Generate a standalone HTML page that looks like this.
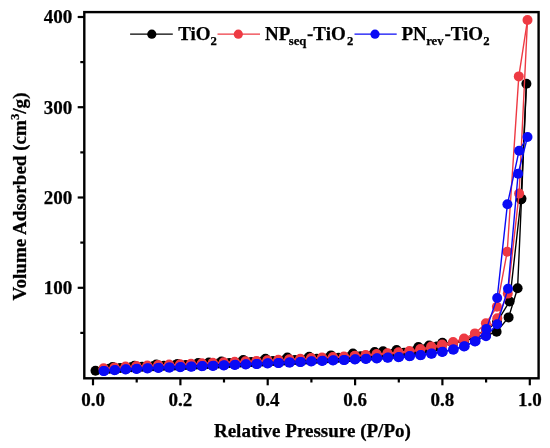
<!DOCTYPE html>
<html><head><meta charset="utf-8"><title>N2 adsorption isotherms</title>
<style>
html,body{margin:0;padding:0;background:#fff;}
svg{display:block;filter:blur(0.35px)}
text{font-family:"Liberation Serif",serif;font-weight:bold;font-size:19px;fill:#000;stroke:#000;stroke-width:0.25px}
.sub{font-size:12.7px}
</style></head><body>
<svg width="550" height="448" viewBox="0 0 550 448">
<rect width="550" height="448" fill="#fff"/>
<g stroke="#000" stroke-width="2.2" fill="none">
<line x1="93.0" y1="378.3" x2="93.0" y2="385.3"/>
<line x1="180.4" y1="378.3" x2="180.4" y2="385.3"/>
<line x1="267.7" y1="378.3" x2="267.7" y2="385.3"/>
<line x1="355.1" y1="378.3" x2="355.1" y2="385.3"/>
<line x1="442.4" y1="378.3" x2="442.4" y2="385.3"/>
<line x1="529.8" y1="378.3" x2="529.8" y2="385.3"/>
<line x1="136.7" y1="378.3" x2="136.7" y2="382.5"/>
<line x1="224.0" y1="378.3" x2="224.0" y2="382.5"/>
<line x1="311.4" y1="378.3" x2="311.4" y2="382.5"/>
<line x1="398.8" y1="378.3" x2="398.8" y2="382.5"/>
<line x1="486.1" y1="378.3" x2="486.1" y2="382.5"/>
<line x1="84.3" y1="287.8" x2="77.7" y2="287.8"/>
<line x1="84.3" y1="197.5" x2="77.7" y2="197.5"/>
<line x1="84.3" y1="107.2" x2="77.7" y2="107.2"/>
<line x1="84.3" y1="17.0" x2="77.7" y2="17.0"/>
<line x1="84.3" y1="332.9" x2="80.3" y2="332.9"/>
<line x1="84.3" y1="242.6" x2="80.3" y2="242.6"/>
<line x1="84.3" y1="152.4" x2="80.3" y2="152.4"/>
<line x1="84.3" y1="62.1" x2="80.3" y2="62.1"/>
</g>
<g stroke="#000000" fill="#000000">
<polyline fill="none" stroke-width="1.4" stroke-linejoin="round" points="95.5,370.8 109.3,368.8 120.2,368.0 131.2,367.3 142.1,366.7 153.0,366.2 163.9,365.8 174.8,365.4 185.8,365.0 196.7,364.5 207.6,364.0 218.5,363.5 229.4,363.0 240.4,362.5 251.3,362.1 262.2,361.5 273.1,361.0 284.0,360.5 295.0,360.0 305.9,359.4 316.8,358.8 327.7,358.3 338.6,357.8 349.6,357.1 360.5,356.3 371.4,355.5 382.3,354.6 393.2,353.7 404.2,352.7 415.1,351.1 426.0,348.8 436.9,346.5 453.0,343.5 464.0,341.0 475.0,338.0 486.0,335.5 496.6,331.8 508.6,317.4 517.6,288.3 521.5,198.8 526.4,83.8"/>
<polyline fill="none" stroke-width="1.4" stroke-linejoin="round" points="526.4,83.8 521.0,199.5 509.6,301.4 497.0,322.0 486.0,330.5 475.0,335.0 464.0,340.5 453.0,343.0 442.4,342.7 429.1,345.5 418.4,347.1 396.6,350.0 383.1,351.2 374.7,352.0 352.9,353.6 331.0,355.4 309.2,356.7 287.4,357.6 265.5,358.7 243.3,360.0 221.5,361.6 208.9,362.6 198.2,363.0 177.5,363.9 156.3,364.6 134.5,365.7 112.7,367.1"/>
<circle stroke="none" cx="95.5" cy="370.8" r="5.0"/>
<circle stroke="none" cx="109.3" cy="368.8" r="5.0"/>
<circle stroke="none" cx="120.2" cy="368.0" r="5.0"/>
<circle stroke="none" cx="131.2" cy="367.3" r="5.0"/>
<circle stroke="none" cx="142.1" cy="366.7" r="5.0"/>
<circle stroke="none" cx="153.0" cy="366.2" r="5.0"/>
<circle stroke="none" cx="163.9" cy="365.8" r="5.0"/>
<circle stroke="none" cx="174.8" cy="365.4" r="5.0"/>
<circle stroke="none" cx="185.8" cy="365.0" r="5.0"/>
<circle stroke="none" cx="196.7" cy="364.5" r="5.0"/>
<circle stroke="none" cx="207.6" cy="364.0" r="5.0"/>
<circle stroke="none" cx="218.5" cy="363.5" r="5.0"/>
<circle stroke="none" cx="229.4" cy="363.0" r="5.0"/>
<circle stroke="none" cx="240.4" cy="362.5" r="5.0"/>
<circle stroke="none" cx="251.3" cy="362.1" r="5.0"/>
<circle stroke="none" cx="262.2" cy="361.5" r="5.0"/>
<circle stroke="none" cx="273.1" cy="361.0" r="5.0"/>
<circle stroke="none" cx="284.0" cy="360.5" r="5.0"/>
<circle stroke="none" cx="295.0" cy="360.0" r="5.0"/>
<circle stroke="none" cx="305.9" cy="359.4" r="5.0"/>
<circle stroke="none" cx="316.8" cy="358.8" r="5.0"/>
<circle stroke="none" cx="327.7" cy="358.3" r="5.0"/>
<circle stroke="none" cx="338.6" cy="357.8" r="5.0"/>
<circle stroke="none" cx="349.6" cy="357.1" r="5.0"/>
<circle stroke="none" cx="360.5" cy="356.3" r="5.0"/>
<circle stroke="none" cx="371.4" cy="355.5" r="5.0"/>
<circle stroke="none" cx="382.3" cy="354.6" r="5.0"/>
<circle stroke="none" cx="393.2" cy="353.7" r="5.0"/>
<circle stroke="none" cx="404.2" cy="352.7" r="5.0"/>
<circle stroke="none" cx="415.1" cy="351.1" r="5.0"/>
<circle stroke="none" cx="426.0" cy="348.8" r="5.0"/>
<circle stroke="none" cx="436.9" cy="346.5" r="5.0"/>
<circle stroke="none" cx="453.0" cy="343.5" r="5.0"/>
<circle stroke="none" cx="464.0" cy="341.0" r="5.0"/>
<circle stroke="none" cx="475.0" cy="338.0" r="5.0"/>
<circle stroke="none" cx="486.0" cy="335.5" r="5.0"/>
<circle stroke="none" cx="496.6" cy="331.8" r="5.0"/>
<circle stroke="none" cx="508.6" cy="317.4" r="5.0"/>
<circle stroke="none" cx="517.6" cy="288.3" r="5.0"/>
<circle stroke="none" cx="521.5" cy="198.8" r="5.0"/>
<circle stroke="none" cx="526.4" cy="83.8" r="5.0"/>
<circle stroke="none" cx="521.0" cy="199.5" r="5.0"/>
<circle stroke="none" cx="509.6" cy="301.4" r="5.0"/>
<circle stroke="none" cx="497.0" cy="322.0" r="5.0"/>
<circle stroke="none" cx="486.0" cy="330.5" r="5.0"/>
<circle stroke="none" cx="475.0" cy="335.0" r="5.0"/>
<circle stroke="none" cx="464.0" cy="340.5" r="5.0"/>
<circle stroke="none" cx="453.0" cy="343.0" r="5.0"/>
<circle stroke="none" cx="442.4" cy="342.7" r="5.0"/>
<circle stroke="none" cx="429.1" cy="345.5" r="5.0"/>
<circle stroke="none" cx="418.4" cy="347.1" r="5.0"/>
<circle stroke="none" cx="396.6" cy="350.0" r="5.0"/>
<circle stroke="none" cx="383.1" cy="351.2" r="5.0"/>
<circle stroke="none" cx="374.7" cy="352.0" r="5.0"/>
<circle stroke="none" cx="352.9" cy="353.6" r="5.0"/>
<circle stroke="none" cx="331.0" cy="355.4" r="5.0"/>
<circle stroke="none" cx="309.2" cy="356.7" r="5.0"/>
<circle stroke="none" cx="287.4" cy="357.6" r="5.0"/>
<circle stroke="none" cx="265.5" cy="358.7" r="5.0"/>
<circle stroke="none" cx="243.3" cy="360.0" r="5.0"/>
<circle stroke="none" cx="221.5" cy="361.6" r="5.0"/>
<circle stroke="none" cx="208.9" cy="362.6" r="5.0"/>
<circle stroke="none" cx="198.2" cy="363.0" r="5.0"/>
<circle stroke="none" cx="177.5" cy="363.9" r="5.0"/>
<circle stroke="none" cx="156.3" cy="364.6" r="5.0"/>
<circle stroke="none" cx="134.5" cy="365.7" r="5.0"/>
<circle stroke="none" cx="112.7" cy="367.1" r="5.0"/>
</g>
<g stroke="#ee3a43" fill="#ee3a43">
<polyline fill="none" stroke-width="1.4" stroke-linejoin="round" points="103.6,369.3 114.5,368.3 125.5,367.6 136.4,366.9 147.3,366.4 158.2,365.8 169.1,365.5 180.1,365.0 191.0,364.6 201.9,364.0 212.8,363.6 223.7,363.0 234.7,362.5 245.6,362.0 256.5,361.5 267.4,360.9 278.3,360.4 289.3,359.9 300.2,359.3 311.1,358.6 322.0,358.1 332.9,357.5 343.9,357.1 354.8,356.2 365.7,355.5 376.6,354.7 387.5,353.8 398.5,352.9 409.4,351.8 420.3,350.0 431.2,347.8 442.1,345.9 453.1,343.6 464.0,340.4 474.9,335.4 486.0,331.0 497.3,318.2 507.8,293.6 519.1,193.6 527.5,20.0"/>
<polyline fill="none" stroke-width="1.4" stroke-linejoin="round" points="527.5,20.0 518.8,76.4 507.2,251.7 496.9,306.8 485.9,323.3 474.9,333.4 464.0,338.6 453.1,342.0 442.1,344.5 431.2,346.6 420.3,349.1 409.4,351.1 398.5,352.3 387.5,353.2 376.6,354.1 365.7,354.9 354.8,355.7 343.9,356.6 332.9,357.0 322.0,357.5 311.1,358.1 300.2,358.7 289.3,359.2 278.3,359.8 267.4,360.2 256.5,360.9 245.6,361.3 234.7,361.8 223.7,362.2 212.8,362.8 201.9,363.2 191.0,363.8 180.1,364.2 169.1,364.6 158.2,365.0 147.3,365.5 136.4,366.0 125.5,366.6 114.5,367.4 103.6,368.3"/>
<circle stroke="none" cx="103.6" cy="369.3" r="5.0"/>
<circle stroke="none" cx="114.5" cy="368.3" r="5.0"/>
<circle stroke="none" cx="125.5" cy="367.6" r="5.0"/>
<circle stroke="none" cx="136.4" cy="366.9" r="5.0"/>
<circle stroke="none" cx="147.3" cy="366.4" r="5.0"/>
<circle stroke="none" cx="158.2" cy="365.8" r="5.0"/>
<circle stroke="none" cx="169.1" cy="365.5" r="5.0"/>
<circle stroke="none" cx="180.1" cy="365.0" r="5.0"/>
<circle stroke="none" cx="191.0" cy="364.6" r="5.0"/>
<circle stroke="none" cx="201.9" cy="364.0" r="5.0"/>
<circle stroke="none" cx="212.8" cy="363.6" r="5.0"/>
<circle stroke="none" cx="223.7" cy="363.0" r="5.0"/>
<circle stroke="none" cx="234.7" cy="362.5" r="5.0"/>
<circle stroke="none" cx="245.6" cy="362.0" r="5.0"/>
<circle stroke="none" cx="256.5" cy="361.5" r="5.0"/>
<circle stroke="none" cx="267.4" cy="360.9" r="5.0"/>
<circle stroke="none" cx="278.3" cy="360.4" r="5.0"/>
<circle stroke="none" cx="289.3" cy="359.9" r="5.0"/>
<circle stroke="none" cx="300.2" cy="359.3" r="5.0"/>
<circle stroke="none" cx="311.1" cy="358.6" r="5.0"/>
<circle stroke="none" cx="322.0" cy="358.1" r="5.0"/>
<circle stroke="none" cx="332.9" cy="357.5" r="5.0"/>
<circle stroke="none" cx="343.9" cy="357.1" r="5.0"/>
<circle stroke="none" cx="354.8" cy="356.2" r="5.0"/>
<circle stroke="none" cx="365.7" cy="355.5" r="5.0"/>
<circle stroke="none" cx="376.6" cy="354.7" r="5.0"/>
<circle stroke="none" cx="387.5" cy="353.8" r="5.0"/>
<circle stroke="none" cx="398.5" cy="352.9" r="5.0"/>
<circle stroke="none" cx="409.4" cy="351.8" r="5.0"/>
<circle stroke="none" cx="420.3" cy="350.0" r="5.0"/>
<circle stroke="none" cx="431.2" cy="347.8" r="5.0"/>
<circle stroke="none" cx="442.1" cy="345.9" r="5.0"/>
<circle stroke="none" cx="453.1" cy="343.6" r="5.0"/>
<circle stroke="none" cx="464.0" cy="340.4" r="5.0"/>
<circle stroke="none" cx="474.9" cy="335.4" r="5.0"/>
<circle stroke="none" cx="486.0" cy="331.0" r="5.0"/>
<circle stroke="none" cx="497.3" cy="318.2" r="5.0"/>
<circle stroke="none" cx="507.8" cy="293.6" r="5.0"/>
<circle stroke="none" cx="519.1" cy="193.6" r="5.0"/>
<circle stroke="none" cx="527.5" cy="20.0" r="5.0"/>
<circle stroke="none" cx="518.8" cy="76.4" r="5.0"/>
<circle stroke="none" cx="507.2" cy="251.7" r="5.0"/>
<circle stroke="none" cx="496.9" cy="306.8" r="5.0"/>
<circle stroke="none" cx="485.9" cy="323.3" r="5.0"/>
<circle stroke="none" cx="474.9" cy="333.4" r="5.0"/>
<circle stroke="none" cx="464.0" cy="338.6" r="5.0"/>
<circle stroke="none" cx="453.1" cy="342.0" r="5.0"/>
<circle stroke="none" cx="442.1" cy="344.5" r="5.0"/>
<circle stroke="none" cx="431.2" cy="346.6" r="5.0"/>
<circle stroke="none" cx="420.3" cy="349.1" r="5.0"/>
<circle stroke="none" cx="409.4" cy="351.1" r="5.0"/>
<circle stroke="none" cx="398.5" cy="352.3" r="5.0"/>
<circle stroke="none" cx="387.5" cy="353.2" r="5.0"/>
<circle stroke="none" cx="376.6" cy="354.1" r="5.0"/>
<circle stroke="none" cx="365.7" cy="354.9" r="5.0"/>
<circle stroke="none" cx="354.8" cy="355.7" r="5.0"/>
<circle stroke="none" cx="343.9" cy="356.6" r="5.0"/>
<circle stroke="none" cx="332.9" cy="357.0" r="5.0"/>
<circle stroke="none" cx="322.0" cy="357.5" r="5.0"/>
<circle stroke="none" cx="311.1" cy="358.1" r="5.0"/>
<circle stroke="none" cx="300.2" cy="358.7" r="5.0"/>
<circle stroke="none" cx="289.3" cy="359.2" r="5.0"/>
<circle stroke="none" cx="278.3" cy="359.8" r="5.0"/>
<circle stroke="none" cx="267.4" cy="360.2" r="5.0"/>
<circle stroke="none" cx="256.5" cy="360.9" r="5.0"/>
<circle stroke="none" cx="245.6" cy="361.3" r="5.0"/>
<circle stroke="none" cx="234.7" cy="361.8" r="5.0"/>
<circle stroke="none" cx="223.7" cy="362.2" r="5.0"/>
<circle stroke="none" cx="212.8" cy="362.8" r="5.0"/>
<circle stroke="none" cx="201.9" cy="363.2" r="5.0"/>
<circle stroke="none" cx="191.0" cy="363.8" r="5.0"/>
<circle stroke="none" cx="180.1" cy="364.2" r="5.0"/>
<circle stroke="none" cx="169.1" cy="364.6" r="5.0"/>
<circle stroke="none" cx="158.2" cy="365.0" r="5.0"/>
<circle stroke="none" cx="147.3" cy="365.5" r="5.0"/>
<circle stroke="none" cx="136.4" cy="366.0" r="5.0"/>
<circle stroke="none" cx="125.5" cy="366.6" r="5.0"/>
<circle stroke="none" cx="114.5" cy="367.4" r="5.0"/>
<circle stroke="none" cx="103.6" cy="368.3" r="5.0"/>
</g>
<g stroke="#0a0af5" fill="#0a0af5">
<polyline fill="none" stroke-width="1.4" stroke-linejoin="round" points="103.5,371.1 114.4,370.2 125.4,369.5 136.3,368.9 147.2,368.4 158.1,367.9 169.0,367.6 180.0,367.2 190.9,366.8 201.8,366.3 212.7,365.9 223.6,365.4 234.6,365.0 245.5,364.5 256.4,364.1 267.3,363.5 278.2,363.1 289.2,362.6 300.1,362.1 311.0,361.5 321.9,361.0 332.8,360.5 343.8,360.1 354.7,359.5 365.6,359.0 376.5,358.5 387.4,357.8 398.4,357.2 409.3,356.3 420.2,355.3 431.1,353.8 442.0,351.9 453.0,349.6 463.9,346.4 474.8,341.4 486.0,336.2 497.2,324.2 508.0,288.7 518.1,173.8 527.5,137.0"/>
<polyline fill="none" stroke-width="1.4" stroke-linejoin="round" points="527.5,137.0 519.1,150.7 507.4,204.3 497.2,298.0 486.4,328.9 475.6,341.2 464.7,346.2 453.8,349.4 442.8,351.7 431.9,353.6 421.0,355.1 410.1,356.1 399.2,357.0 388.2,357.6 377.3,358.3 366.4,358.8 355.5,359.3 344.6,359.9 333.6,360.3 322.7,360.8 311.8,361.3 300.9,361.9 290.0,362.4 279.0,362.9 268.1,363.3 257.2,363.9 246.3,364.3 235.4,364.8 224.4,365.2 213.5,365.7 202.6,366.1 191.7,366.6 180.8,367.0 169.8,367.4 158.9,367.7 148.0,368.2 137.1,368.7 126.2,369.3 115.2,370.0 104.3,370.9"/>
<circle stroke="none" cx="103.5" cy="371.1" r="5.0"/>
<circle stroke="none" cx="114.4" cy="370.2" r="5.0"/>
<circle stroke="none" cx="125.4" cy="369.5" r="5.0"/>
<circle stroke="none" cx="136.3" cy="368.9" r="5.0"/>
<circle stroke="none" cx="147.2" cy="368.4" r="5.0"/>
<circle stroke="none" cx="158.1" cy="367.9" r="5.0"/>
<circle stroke="none" cx="169.0" cy="367.6" r="5.0"/>
<circle stroke="none" cx="180.0" cy="367.2" r="5.0"/>
<circle stroke="none" cx="190.9" cy="366.8" r="5.0"/>
<circle stroke="none" cx="201.8" cy="366.3" r="5.0"/>
<circle stroke="none" cx="212.7" cy="365.9" r="5.0"/>
<circle stroke="none" cx="223.6" cy="365.4" r="5.0"/>
<circle stroke="none" cx="234.6" cy="365.0" r="5.0"/>
<circle stroke="none" cx="245.5" cy="364.5" r="5.0"/>
<circle stroke="none" cx="256.4" cy="364.1" r="5.0"/>
<circle stroke="none" cx="267.3" cy="363.5" r="5.0"/>
<circle stroke="none" cx="278.2" cy="363.1" r="5.0"/>
<circle stroke="none" cx="289.2" cy="362.6" r="5.0"/>
<circle stroke="none" cx="300.1" cy="362.1" r="5.0"/>
<circle stroke="none" cx="311.0" cy="361.5" r="5.0"/>
<circle stroke="none" cx="321.9" cy="361.0" r="5.0"/>
<circle stroke="none" cx="332.8" cy="360.5" r="5.0"/>
<circle stroke="none" cx="343.8" cy="360.1" r="5.0"/>
<circle stroke="none" cx="354.7" cy="359.5" r="5.0"/>
<circle stroke="none" cx="365.6" cy="359.0" r="5.0"/>
<circle stroke="none" cx="376.5" cy="358.5" r="5.0"/>
<circle stroke="none" cx="387.4" cy="357.8" r="5.0"/>
<circle stroke="none" cx="398.4" cy="357.2" r="5.0"/>
<circle stroke="none" cx="409.3" cy="356.3" r="5.0"/>
<circle stroke="none" cx="420.2" cy="355.3" r="5.0"/>
<circle stroke="none" cx="431.1" cy="353.8" r="5.0"/>
<circle stroke="none" cx="442.0" cy="351.9" r="5.0"/>
<circle stroke="none" cx="453.0" cy="349.6" r="5.0"/>
<circle stroke="none" cx="463.9" cy="346.4" r="5.0"/>
<circle stroke="none" cx="474.8" cy="341.4" r="5.0"/>
<circle stroke="none" cx="486.0" cy="336.2" r="5.0"/>
<circle stroke="none" cx="497.2" cy="324.2" r="5.0"/>
<circle stroke="none" cx="508.0" cy="288.7" r="5.0"/>
<circle stroke="none" cx="518.1" cy="173.8" r="5.0"/>
<circle stroke="none" cx="527.5" cy="137.0" r="5.0"/>
<circle stroke="none" cx="519.1" cy="150.7" r="5.0"/>
<circle stroke="none" cx="507.4" cy="204.3" r="5.0"/>
<circle stroke="none" cx="497.2" cy="298.0" r="5.0"/>
<circle stroke="none" cx="486.4" cy="328.9" r="5.0"/>
<circle stroke="none" cx="475.6" cy="341.2" r="5.0"/>
<circle stroke="none" cx="464.7" cy="346.2" r="5.0"/>
<circle stroke="none" cx="453.8" cy="349.4" r="5.0"/>
<circle stroke="none" cx="442.8" cy="351.7" r="5.0"/>
<circle stroke="none" cx="431.9" cy="353.6" r="5.0"/>
<circle stroke="none" cx="421.0" cy="355.1" r="5.0"/>
<circle stroke="none" cx="410.1" cy="356.1" r="5.0"/>
<circle stroke="none" cx="399.2" cy="357.0" r="5.0"/>
<circle stroke="none" cx="388.2" cy="357.6" r="5.0"/>
<circle stroke="none" cx="377.3" cy="358.3" r="5.0"/>
<circle stroke="none" cx="366.4" cy="358.8" r="5.0"/>
<circle stroke="none" cx="355.5" cy="359.3" r="5.0"/>
<circle stroke="none" cx="344.6" cy="359.9" r="5.0"/>
<circle stroke="none" cx="333.6" cy="360.3" r="5.0"/>
<circle stroke="none" cx="322.7" cy="360.8" r="5.0"/>
<circle stroke="none" cx="311.8" cy="361.3" r="5.0"/>
<circle stroke="none" cx="300.9" cy="361.9" r="5.0"/>
<circle stroke="none" cx="290.0" cy="362.4" r="5.0"/>
<circle stroke="none" cx="279.0" cy="362.9" r="5.0"/>
<circle stroke="none" cx="268.1" cy="363.3" r="5.0"/>
<circle stroke="none" cx="257.2" cy="363.9" r="5.0"/>
<circle stroke="none" cx="246.3" cy="364.3" r="5.0"/>
<circle stroke="none" cx="235.4" cy="364.8" r="5.0"/>
<circle stroke="none" cx="224.4" cy="365.2" r="5.0"/>
<circle stroke="none" cx="213.5" cy="365.7" r="5.0"/>
<circle stroke="none" cx="202.6" cy="366.1" r="5.0"/>
<circle stroke="none" cx="191.7" cy="366.6" r="5.0"/>
<circle stroke="none" cx="180.8" cy="367.0" r="5.0"/>
<circle stroke="none" cx="169.8" cy="367.4" r="5.0"/>
<circle stroke="none" cx="158.9" cy="367.7" r="5.0"/>
<circle stroke="none" cx="148.0" cy="368.2" r="5.0"/>
<circle stroke="none" cx="137.1" cy="368.7" r="5.0"/>
<circle stroke="none" cx="126.2" cy="369.3" r="5.0"/>
<circle stroke="none" cx="115.2" cy="370.0" r="5.0"/>
<circle stroke="none" cx="104.3" cy="370.9" r="5.0"/>
</g>
<rect x="84.3" y="12.1" width="454.3" height="366.2" fill="none" stroke="#000" stroke-width="2.4"/>
<text x="93.0" y="405.6" text-anchor="middle">0.0</text>
<text x="180.4" y="405.6" text-anchor="middle">0.2</text>
<text x="267.7" y="405.6" text-anchor="middle">0.4</text>
<text x="355.1" y="405.6" text-anchor="middle">0.6</text>
<text x="442.4" y="405.6" text-anchor="middle">0.8</text>
<text x="529.8" y="405.6" text-anchor="middle">1.0</text>
<text x="72.3" y="293.9" text-anchor="end">100</text>
<text x="72.3" y="203.7" text-anchor="end">200</text>
<text x="72.3" y="113.5" text-anchor="end">300</text>
<text x="72.3" y="23.2" text-anchor="end">400</text>
<text x="312.4" y="436.8" text-anchor="middle" textLength="197" lengthAdjust="spacingAndGlyphs">Relative Pressure (P/Po)</text>
<text transform="translate(25.6,196.5) rotate(-90)" text-anchor="middle" textLength="208" lengthAdjust="spacingAndGlyphs">Volume Adsorbed (cm<tspan class="sub" dy="-6.5">3</tspan><tspan dy="6.5">/g)</tspan></text>
<g id="legend">
<g stroke-width="1.3">
<line x1="130.1" y1="34.2" x2="172.8" y2="34.2" stroke="#000"/><circle cx="151.8" cy="34.2" r="4.6" fill="#000"/>
<line x1="217.5" y1="34.2" x2="260" y2="34.2" stroke="#ee3a43"/><circle cx="238.3" cy="34.2" r="4.6" fill="#ee3a43"/>
<line x1="354.5" y1="34.2" x2="396.7" y2="34.2" stroke="#0a0af5"/><circle cx="375.0" cy="34.2" r="4.6" fill="#0a0af5"/>
</g>
<text y="40"><tspan x="178.2">TiO</tspan><tspan class="sub" x="210.5" dy="5.2">2</tspan></text>
<text y="40"><tspan x="265.0">NP</tspan><tspan class="sub" x="288.8" dy="5.2">seq</tspan><tspan x="307.0" dy="-5.2">-TiO</tspan><tspan class="sub" x="347.0" dy="5.2">2</tspan></text>
<text y="40"><tspan x="401.5">PN</tspan><tspan class="sub" x="426.2" dy="5.2">rev</tspan><tspan x="444.4" dy="-5.2">-TiO</tspan><tspan class="sub" x="483.2" dy="5.2">2</tspan></text>
</g>
</svg>
</body></html>
